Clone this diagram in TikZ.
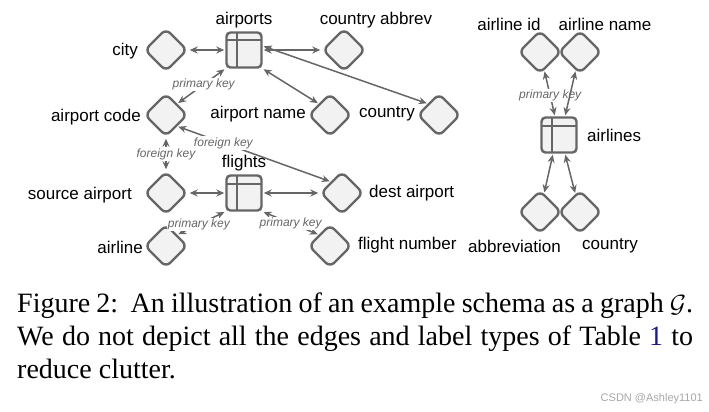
\documentclass[tikz,border=0pt]{standalone}
\usepackage{fontspec}
\setmainfont{Liberation Serif}
\newfontfamily\sff{Liberation Sans}
\usetikzlibrary{shapes.geometric,arrows.meta}
\definecolor{eg}{HTML}{666666}
\definecolor{fl}{HTML}{F2F2F2}
\definecolor{refblue}{HTML}{1A1A8C}
\begin{document}
\begin{tikzpicture}[x=1pt,y=-1pt,
  attr/.style={diamond,draw=eg,fill=fl,line width=2.4pt,rounded corners=6pt,minimum width=43pt,minimum height=43pt,inner sep=0pt},
  tab/.style={rectangle,draw=eg,fill=fl,line width=2.4pt,rounded corners=4pt,minimum size=35pt,inner sep=0pt,
    path picture={\draw[eg,line width=2pt] ([yshift=-8pt]path picture bounding box.north west)--([yshift=-8pt]path picture bounding box.north east);
    \draw[eg,line width=2pt] ([xshift=10pt]path picture bounding box.north west)--([xshift=10pt]path picture bounding box.south west);}},
  lab/.style={font=\sff\fontsize{17}{20}\selectfont,inner sep=0pt},
  el/.style={font=\sff\itshape\fontsize{12}{13}\selectfont,inner sep=1pt},
  e/.style={{Stealth[length=8pt,width=7pt]}-{Stealth[length=8pt,width=7pt]},eg,line width=1.5pt,shorten <=1pt,shorten >=1pt}]
\useasboundingbox (0,0) rectangle (709,412);
% nodes
\node[tab] (airports) at (244,50) {};
\node[lab] (airportsL) at (244,20) {airports};
\node[attr] (city) at (166,50) {};
\node[lab,anchor=east] (cityL) at (138,51) {city};
\node[attr] (cabbr) at (344,50) {};
\node[lab] (cabbrL) at (376,20) {country abbrev};
\node[attr] (acode) at (166,115) {};
\node[lab,anchor=east] (acodeL) at (141,117) {airport code};
\node[attr] (aname) at (330,115) {};
\node[lab,anchor=east] (anameL) at (306,114) {airport name};
\node[attr] (country) at (439,115) {};
\node[lab,anchor=east] (countryL) at (415,114) {country};
\node[attr] (src) at (166,193) {};
\node[lab,anchor=east] (srcL) at (132,195) {source airport};
\node[tab] (flights) at (244,193) {};
\node[lab] (flightsL) at (244,163) {flights};
\node[attr] (dest) at (342,193) {};
\node[lab,anchor=west] (destL) at (369,193) {dest airport};
\node[attr] (airline) at (166,246) {};
\node[lab,anchor=east] (airlineL) at (143,247) {airline};
\node[attr] (fnum) at (330,246) {};
\node[lab,anchor=west] (fnumL) at (358,245) {flight number};
\node[attr] (aid) at (540,52) {};
\node[lab] (aidL) at (509,24) {airline id};
\node[attr] (aln) at (580,52) {};
\node[lab] (alnL) at (605,24) {airline name};
\node[tab] (airlines) at (559,135) {};
\node[lab,anchor=west] (airlinesL) at (587,135) {airlines};
\node[attr] (abbr) at (540,212) {};
\node[lab,anchor=west] (abbrL) at (468,246) {abbreviation};
\node[attr] (c2) at (580,212) {};
\node[lab,anchor=west] (c2L) at (582,246) {country};
% edges
\draw[e] (city) -- (airports);
\draw[e] (airports) -- (cabbr);
\draw[e] (airports.south east) -- (aname.north west);
\draw[e] ([yshift=4pt]airports.east) -- (country.north west);
\draw[e] (airports.south west) -- node[el,fill=white,pos=0.45] (pk1) {primary key} (acode.north east);
\draw[e] (acode) -- node[el,fill=white] (fk1) {foreign key} (src);
\draw[e] (acode.south east) -- node[el,fill=white,pos=0.3] (fk2) {foreign key} (dest.north west);
\draw[e] (src) -- (flights);
\draw[e] (flights) -- (dest);
\draw[e] (flights.south west) -- node[el,fill=white,pos=0.55] (pk2) {primary key} (airline.north east);
\draw[e] (flights.south east) -- node[el,fill=white,pos=0.5] (pk3) {primary key} (fnum.north west);
\draw[e] (aid) -- node[el,fill=white,pos=0.55] (pk4) {primary key} ([xshift=-4pt]airlines.north);
\draw[e] (aln) -- ([xshift=6pt]airlines.north);
\draw[e] ([xshift=-6pt]airlines.south) -- (abbr);
\draw[e] ([xshift=6pt]airlines.south) -- (c2);
% caption
\node[anchor=north west,text width=676pt,align=justify,inner sep=0pt,font=\fontsize{28}{33}\selectfont] (cap) at (17,293)
 {Figure 2:\ \ An illustration of an example schema as a graph $\mathcal{G}$. We do not depict all the edges and label types of Table \textcolor{refblue}{1} to reduce clutter.};
\node[anchor=south east,font=\sff\fontsize{11}{12}\selectfont,text=gray!70,inner sep=0pt] (wm) at (703,404) {CSDN @Ashley1101};
\end{tikzpicture}
\end{document}
